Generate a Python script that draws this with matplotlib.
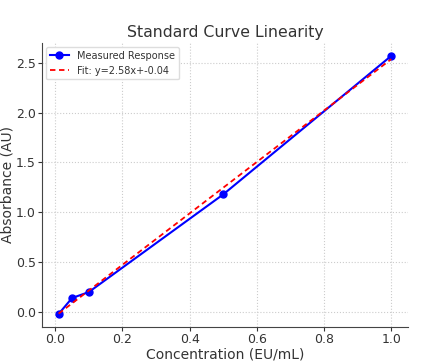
import numpy as np
import matplotlib
matplotlib.use("Agg")
import matplotlib.pyplot as plt

# standard curve data
conc = [0.01, 0.05, 0.1, 0.5, 1.0]
absorb = [-0.02, 0.14, 0.20, 1.18, 2.57]

m, b = np.polyfit(conc, absorb, 1)
fit_y = [m * c + b for c in conc]

fig = plt.figure(figsize=(4.24, 3.64), dpi=100)
ax = fig.add_axes([0.099, 0.102, 0.863, 0.780])

ax.plot(conc, absorb, "o-", color="blue", lw=1.5, ms=5, label="Measured Response")
ax.plot(conc, fit_y, "--", color="red", lw=1.3, dashes=(3, 2),
        label=f"Fit: y={m:.2f}x+{b:.2f}")

ax.set_title("Standard Curve Linearity", fontsize=11.3, color="#333333", pad=4)
ax.set_xlabel("Concentration (EU/mL)", fontsize=10, color="#333333", labelpad=1)
ax.set_ylabel("Absorbance (AU)", fontsize=10, color="#333333", labelpad=1)
ax.tick_params(labelsize=9, colors="#333333", length=3, pad=1.5)
ax.grid(True, ls=":", lw=0.8, color="#cccccc")
for s in ["top", "right"]:
    ax.spines[s].set_visible(False)
for s in ["left", "bottom"]:
    ax.spines[s].set_color("#444444")
ax.legend(loc="upper left", fontsize=7, framealpha=1, edgecolor="#dddddd",
          labelcolor="#333333", borderaxespad=0.4)

fig.savefig("out.png", dpi=100)
